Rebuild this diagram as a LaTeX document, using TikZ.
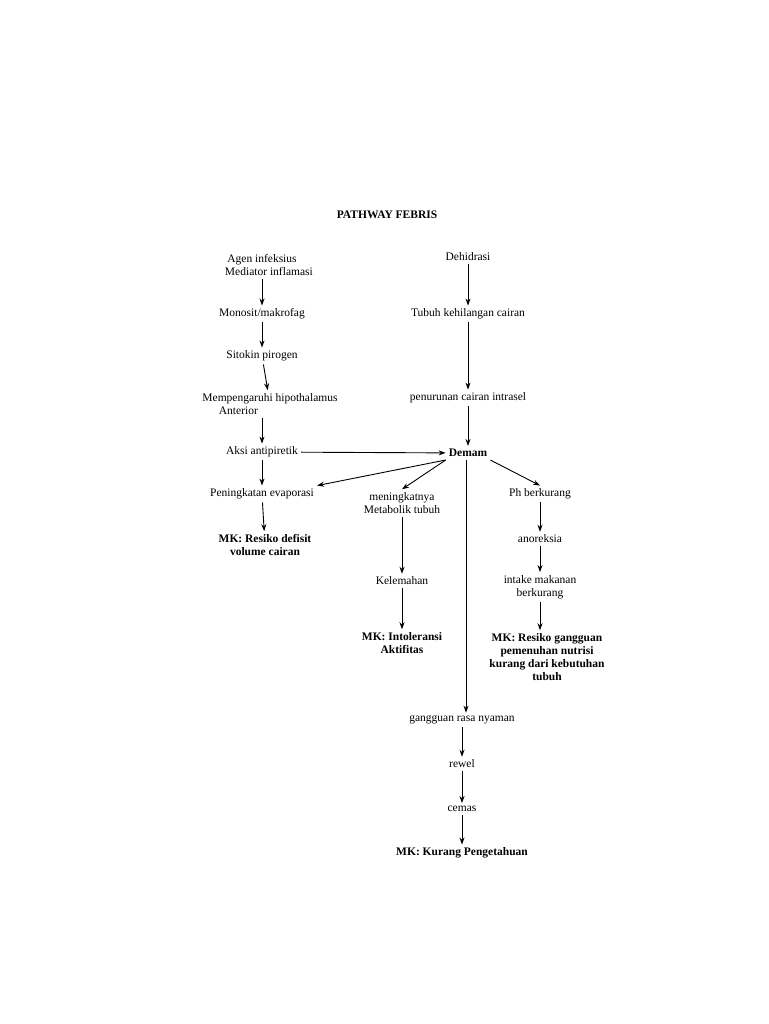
\documentclass[tikz,border=0pt]{standalone}
\usepackage{fontspec}
\setmainfont{Liberation Serif}
\usetikzlibrary{arrows.meta}
\begin{document}
\begin{tikzpicture}[x=1pt,y=-1pt,
  t/.style={font=\fontsize{11.5}{13}\selectfont,align=center,inner sep=3pt},
  b/.style={t,font=\fontsize{11.5}{13}\selectfont\bfseries},
  ar/.style={-{Stealth[length=7pt,width=5pt]},line width=0.9pt}]
\useasboundingbox[fill=white] (0,0) rectangle (768,1024);
\node[b] (title) at (387,215) {PATHWAY FEBRIS};
% left column
\node[t] (a1) at (262,265) {Agen infeksius\\\hspace*{1.2em}Mediator inflamasi};
\node[t] (a2) at (262,314) {Monosit/makrofag};
\node[t] (a3) at (262,356) {Sitokin pirogen};
\node[t] (a4) at (270,404) {Mempengaruhi hipothalamus\\Anterior\hspace*{5.5em}};
\node[t] (a5) at (262,452) {Aksi antipiretik};
\node[t] (a6) at (262,494) {Peningkatan evaporasi};
\node[b] (a7) at (265,545) {MK: Resiko defisit\\volume cairan};
% right column
\node[t] (d1) at (468,257) {Dehidrasi};
\node[t] (d2) at (468,314) {Tubuh kehilangan cairan};
\node[t] (d3) at (468,398) {penurunan cairan intrasel};
\node[b] (dm) at (468,453) {Demam};
% middle
\node[t] (m1) at (402,503) {meningkatnya\\Metabolik tubuh};
\node[t] (m2) at (402,581) {Kelemahan};
\node[b] (m3) at (402,643) {MK: Intoleransi\\Aktifitas};
% right branch
\node[t] (p1) at (540,494) {Ph berkurang};
\node[t] (p2) at (540,539) {anoreksia};
\node[t] (p3) at (540,587) {intake makanan\\berkurang};
\node[b] (p4) at (547,657) {MK: Resiko gangguan\\pemenuhan nutrisi\\kurang dari kebutuhan\\tubuh};
% bottom
\node[t] (g1) at (462,720) {gangguan rasa nyaman};
\node[t] (g2) at (462,764) {rewel};
\node[t] (g3) at (462,809) {cemas};
\node[b] (g4) at (462,853) {MK: Kurang Pengetahuan};
% arrows
\draw[ar] (a1) -- (a2);
\draw[ar] (a2) -- (a3);
\draw[ar] (a3) -- (a4);
\draw[ar] (a4.south -| a5) -- (a5);
\draw[ar] (a5) -- (a6);
\draw[ar] (a6) -- (a7);
\draw[ar] (d1) -- (d2);
\draw[ar] (d2) -- (d3);
\draw[ar] (d3) -- (dm);
\draw[ar] (a5) -- (dm);
\draw[ar] (dm.south west) -- (a6.north east);
\draw[ar] (dm.south west) -- (m1.north);
\draw[ar] (dm.south east) -- (p1.north);
\draw[ar] (dm.south) ++(-2,0) coordinate (ds) -- (ds |- g1.north);
\draw[ar] (m1) -- (m2);
\draw[ar] (m2) -- (m3);
\draw[ar] (p1) -- (p2);
\draw[ar] (p2) -- (p3);
\draw[ar] (p3.south) -- (p3.south |- p4.north);
\draw[ar] (g1) -- (g2);
\draw[ar] (g2) -- (g3);
\draw[ar] (g3) -- (g4);
\end{tikzpicture}
\end{document}
